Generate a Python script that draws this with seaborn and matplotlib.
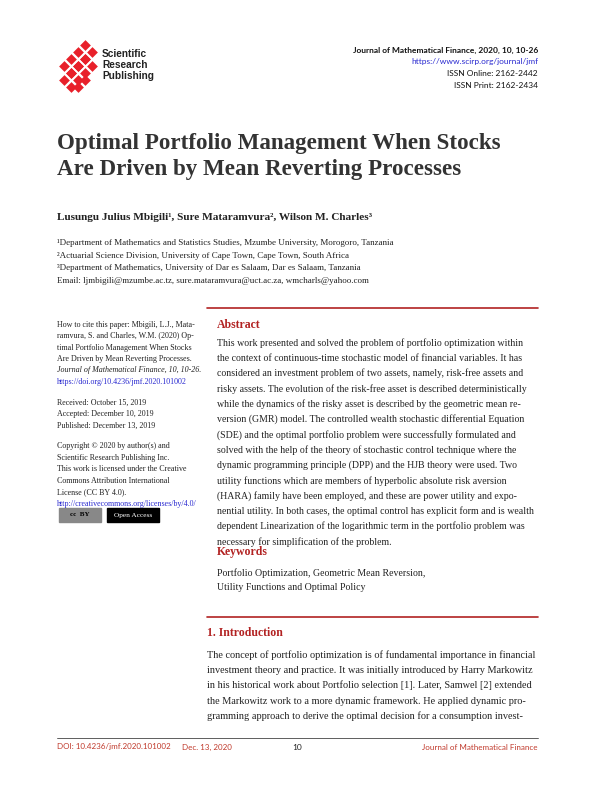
import matplotlib
matplotlib.use("Agg")
import matplotlib.pyplot as plt
import seaborn as sns
from matplotlib.patches import Rectangle

sns.set_theme(style="white")
plt.rcParams['font.family'] = ['Liberation Serif', 'DejaVu Serif']

RED = "#b22222"
LINK = "#2a2ad0"

logo_x = [64, 71, 78, 85, 71, 78, 85, 92, 64, 71, 78, 85, 71, 78, 85, 92, 78, 85]
logo_y = [66, 59, 52, 45, 73, 66, 59, 52, 80, 73, 66, 59, 87, 80, 73, 66, 87, 80]
logo_words = ["Scientific", "Research", "Publishing"]
header_lines = ["Journal of Mathematical Finance, 2020, 10, 10-26",
                "https://www.scirp.org/journal/jmf",
                "ISSN Online: 2162-2442", "ISSN Print: 2162-2434"]
title_lines = ["Optimal Portfolio Management When Stocks",
               "Are Driven by Mean Reverting Processes"]
authors = "Lusungu Julius Mbigili\u00b9, Sure Mataramvura\u00b2, Wilson M. Charles\u00b3"
affils = ["\u00b9Department of Mathematics and Statistics Studies, Mzumbe University, Morogoro, Tanzania",
          "\u00b2Actuarial Science Division, University of Cape Town, Cape Town, South Africa",
          "\u00b3Department of Mathematics, University of Dar es Salaam, Dar es Salaam, Tanzania",
          "Email: ljmbigili@mzumbe.ac.tz, sure.mataramvura@uct.ac.za, wmcharls@yahoo.com"]
cite_lines = ["How to cite this paper: Mbigili, L.J., Mata-",
              "ramvura, S. and Charles, W.M. (2020) Op-",
              "timal Portfolio Management When Stocks",
              "Are Driven by Mean Reverting Processes.",
              "Journal of Mathematical Finance, 10, 10-26.",
              "https://doi.org/10.4236/jmf.2020.101002"]
date_lines = ["Received: October 15, 2019", "Accepted: December 10, 2019",
              "Published: December 13, 2019"]
copy_lines = ["Copyright \u00a9 2020 by author(s) and",
              "Scientific Research Publishing Inc.",
              "This work is licensed under the Creative",
              "Commons Attribution International",
              "License (CC BY 4.0).",
              "http://creativecommons.org/licenses/by/4.0/"]
abstract_lines = [
    "This work presented and solved the problem of portfolio optimization within",
    "the context of continuous-time stochastic model of financial variables. It has",
    "considered an investment problem of two assets, namely, risk-free assets and",
    "risky assets. The evolution of the risk-free asset is described deterministically",
    "while the dynamics of the risky asset is described by the geometric mean re-",
    "version (GMR) model. The controlled wealth stochastic differential Equation",
    "(SDE) and the optimal portfolio problem were successfully formulated and",
    "solved with the help of the theory of stochastic control technique where the",
    "dynamic programming principle (DPP) and the HJB theory were used. Two",
    "utility functions which are members of hyperbolic absolute risk aversion",
    "(HARA) family have been employed, and these are power utility and expo-",
    "nential utility. In both cases, the optimal control has explicit form and is wealth",
    "dependent Linearization of the logarithmic term in the portfolio problem was",
    "necessary for simplification of the problem."]
keyword_lines = ["Portfolio Optimization, Geometric Mean Reversion,",
                 "Utility Functions and Optimal Policy"]
intro_lines = [
    "The concept of portfolio optimization is of fundamental importance in financial",
    "investment theory and practice. It was initially introduced by Harry Markowitz",
    "in his historical work about Portfolio selection [1]. Later, Samwel [2] extended",
    "the Markowitz work to a more dynamic framework. He applied dynamic pro-",
    "gramming approach to derive the optimal decision for a consumption invest-"]
footer = ["DOI: 10.4236/jmf.2020.101002", "Dec. 13, 2020", "10", "Journal of Mathematical Finance"]

fig = plt.figure(figsize=(5.95, 8.08), dpi=100)
ax = fig.add_axes([0, 0, 1, 1])
ax.set_xlim(0, 595)
ax.set_ylim(808, 0)
ax.axis("off")

sans = ['Liberation Sans', 'DejaVu Sans']
ax.scatter(logo_x, logo_y, marker="D", s=30, color="#e8202a", linewidths=0)
for i, w in enumerate(logo_words):
    ax.text(102, 54 + i * 11, w, fontsize=7.3, fontweight="bold", family=sans, va="center", color="#222")

for i, t in enumerate(header_lines):
    ax.text(538, 50 + i * 11.7, t, fontsize=6, ha="right", va="center", family=['Lato'],
            color=LINK if i == 1 else "#111", fontweight="bold" if i == 0 else "normal")

for i, t in enumerate(title_lines):
    ax.text(57, 143 + i * 27, t, fontsize=16.6, fontweight="bold", va="center", color="#333")

ax.text(57, 218, authors, fontsize=8.1, fontweight="bold", va="center", color="#222")
for i, t in enumerate(affils):
    ax.text(57, 243 + i * 12.7, t, fontsize=6.5, va="center", color="#222")

for i, t in enumerate(cite_lines):
    ax.text(57, 325 + i * 11.3, t, fontsize=5.8, va="center",
            color=LINK if i == 5 else "#222", style="italic" if i == 4 else "normal")
for i, t in enumerate(date_lines):
    ax.text(57, 403 + i * 11.3, t, fontsize=5.8, va="center", color="#222")
for i, t in enumerate(copy_lines):
    ax.text(57, 446 + i * 11.6, t, fontsize=5.8, va="center", color=LINK if i == 5 else "#222")
ax.add_patch(Rectangle((59, 508), 42, 14, color="#888"))
ax.text(80, 515, "cc  BY", fontsize=5, color="black", ha="center", va="center", fontweight="bold")
ax.add_patch(Rectangle((107, 508), 52, 14, color="black"))
ax.text(133, 515, "Open Access", fontsize=5.3, color="white", ha="center", va="center")

ax.plot([207, 538], [308, 308], color=RED, lw=1.2)
ax.text(217, 325, "Abstract", fontsize=8.5, fontweight="bold", color=RED, va="center")
for i, t in enumerate(abstract_lines):
    ax.text(217, 343 + i * 15.3, t, fontsize=7.1, va="center", color="#222")
ax.text(217, 552, "Keywords", fontsize=8.5, fontweight="bold", color=RED, va="center")
for i, t in enumerate(keyword_lines):
    ax.text(217, 573 + i * 14, t, fontsize=7.1, va="center", color="#222")

ax.plot([207, 538], [617, 617], color=RED, lw=1.2)
ax.text(207, 633, "1. Introduction", fontsize=8.5, fontweight="bold", color=RED, va="center")
for i, t in enumerate(intro_lines):
    ax.text(207, 655 + i * 15.3, t, fontsize=7.4, va="center", color="#222")

ax.plot([57, 538], [738, 738], color="#444", lw=0.6)
fc = "#c0392b"
ax.text(57, 747, footer[0], fontsize=5.8, va="center", color=fc, family=['Lato'])
ax.text(182, 747, footer[1], fontsize=5.8, va="center", color=fc, family=['Lato'])
ax.text(297, 747, footer[2], fontsize=6, va="center", ha="center", color="#222", family=['Lato'])
ax.text(538, 747, footer[3], fontsize=5.8, va="center", ha="right", color=fc, family=['Lato'])

fig.savefig("out.png", dpi=100, facecolor="white")
